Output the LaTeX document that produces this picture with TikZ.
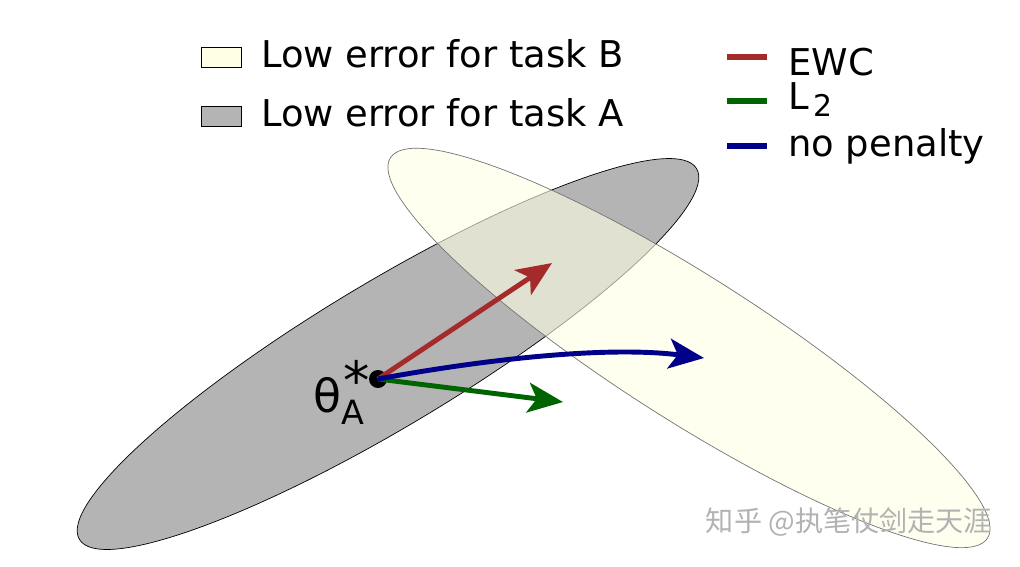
\documentclass[tikz,border=0pt]{standalone}
\usepackage{fontspec}
\setmainfont{DejaVu Sans}
\newfontfamily\cjk{Noto Sans CJK SC}
\definecolor{ewc}{HTML}{A52A2A}
\definecolor{ltwo}{HTML}{006400}
\definecolor{nop}{HTML}{00008B}
\definecolor{lowB}{HTML}{FFFFE6}
\definecolor{lowA}{HTML}{B4B4B4}
\begin{document}
\begin{tikzpicture}[x=0.02cm,y=-0.02cm,
  lg/.style={anchor=west,font=\fontsize{21}{25}\selectfont},
  arr/.style={line width=2.8pt,-{Stealth[length=20pt,width=17pt,inset=5pt]}},
  key/.style={line width=3.5pt}]
\usetikzlibrary{arrows.meta}
\useasboundingbox (0,0) rectangle (1020,566);
\coordinate (cA) at (388,354);
\coordinate (cB) at (689,348);
\filldraw[fill=lowA,draw=black,rotate around={31:(cA)}] (cA) ellipse (360 and 72);
\filldraw[fill=lowB,fill opacity=0.6,draw=black!55,rotate around={-32.5:(cB)}] (cB) ellipse (354 and 72);
% legend
\node[draw=black,fill=lowB,minimum width=0.8cm,minimum height=0.4cm,inner sep=0] (kb) at (221,57) {};
\node[lg] (tb) at (255,54) {Low error for task B};
\node[draw=black,fill=lowA,minimum width=0.8cm,minimum height=0.4cm,inner sep=0] (ka) at (221,116) {};
\node[lg] (ta) at (255,113) {Low error for task A};
\coordinate (r1) at (727,57); \coordinate (r2) at (767,57);
\draw[key,ewc] (r1) -- (r2);
\node[lg] (te) at (782,62) {EWC};
\coordinate (g1) at (727,101); \coordinate (g2) at (767,101);
\draw[key,ltwo] (g1) -- (g2);
\node[lg] (tl) at (782,100) {L\raisebox{-0.35ex}{\fontsize{17}{20}\selectfont\,2}};
\coordinate (b1) at (727,146); \coordinate (b2) at (767,146);
\draw[key,nop] (b1) -- (b2);
\node[lg] (tn) at (782,146) {no penalty};
% arrows
\node[circle,fill=black,inner sep=0,minimum size=0.36cm] (th) at (378,379) {};
\coordinate (eR) at (552,263);
\coordinate (eG) at (563,402);
\coordinate (eN) at (704,358);
\draw[arr,ewc] (th.center) -- (eR);
\draw[arr,ltwo] (th.center) -- (eG);
\draw[arr,nop] (th.center) .. controls (470,362) and (600,345) .. (eN);
\node[anchor=east,font=\fontsize{26}{30}\selectfont,inner sep=0] (lab) at (370,392) {θ\raisebox{-0.45ex}{\fontsize{19}{22}\selectfont A}\hspace{-0.45em}\raisebox{0.55ex}{\fontsize{30}{30}\selectfont *}};
\node[anchor=east,font=\cjk\fontsize{16}{20}\selectfont,text=black!30] (wm) at (998,522) {知乎 @执笔仗剑走天涯};
\end{tikzpicture}
\end{document}
